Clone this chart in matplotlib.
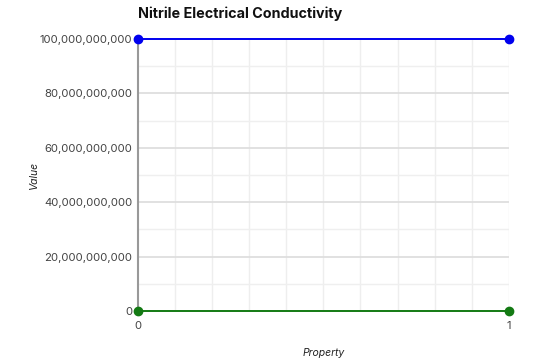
import matplotlib
matplotlib.use("Agg")
import matplotlib.pyplot as plt
from matplotlib.ticker import FuncFormatter
import numpy as np

x_vals = [0, 1]
series_high = [1e11, 1e11]
series_low = [0, 0]
y_ticks = [0, 2e10, 4e10, 6e10, 8e10, 1e11]
x_ticks = [0, 1]

plt.rcParams['font.family'] = ['Inter', 'DejaVu Sans']

fig = plt.figure(figsize=(5.5, 3.6), dpi=100)
ax = fig.add_axes([0.251, 0.136, 0.674, 0.756])

# grids
for xv in np.arange(0.1, 1.0001, 0.1):
    ax.axvline(xv, color='#eeeeee', lw=1, zorder=0)
for yv in np.arange(1e10, 1e11, 2e10):
    ax.axhline(yv, color='#efefef', lw=1, zorder=0)
for yv in y_ticks[1:-1]:
    ax.axhline(yv, color='#dcdcdc', lw=1.2, zorder=0)

ax.plot(x_vals, series_high, color='#0000ee', lw=1.4, marker='o', ms=6, clip_on=False, zorder=3)
ax.plot(x_vals, series_low, color='#137a13', lw=1.4, marker='o', ms=6, clip_on=False, zorder=3)

ax.set_xlim(0, 1)
ax.set_ylim(0, 1e11)
ax.set_xticks(x_ticks)
ax.set_yticks(y_ticks)
ax.yaxis.set_major_formatter(FuncFormatter(lambda v, p: f"{int(round(v)):,}"))
ax.tick_params(length=0, labelsize=8.2, colors='#444444', pad=4)
ax.tick_params(axis='x', pad=7)

for s in ['top', 'right', 'bottom']:
    ax.spines[s].set_visible(False)
ax.spines['left'].set_color('#999999')
ax.spines['left'].set_linewidth(1.5)

ax.set_xlabel('Property', fontstyle='italic', fontsize=7.5, color='#222222')
ax.set_ylabel('Value', fontstyle='italic', fontsize=7.5, color='#222222')
ax.xaxis.set_label_coords(0.5, -0.136)
ax.yaxis.set_label_coords(-0.266, 0.5)
fig.text(0.251, 0.961, 'Nitrile Electrical Conductivity', fontsize=10.3, fontweight='bold', ha='left', va='center', color='#111111')

fig.savefig('out.png', dpi=100)
